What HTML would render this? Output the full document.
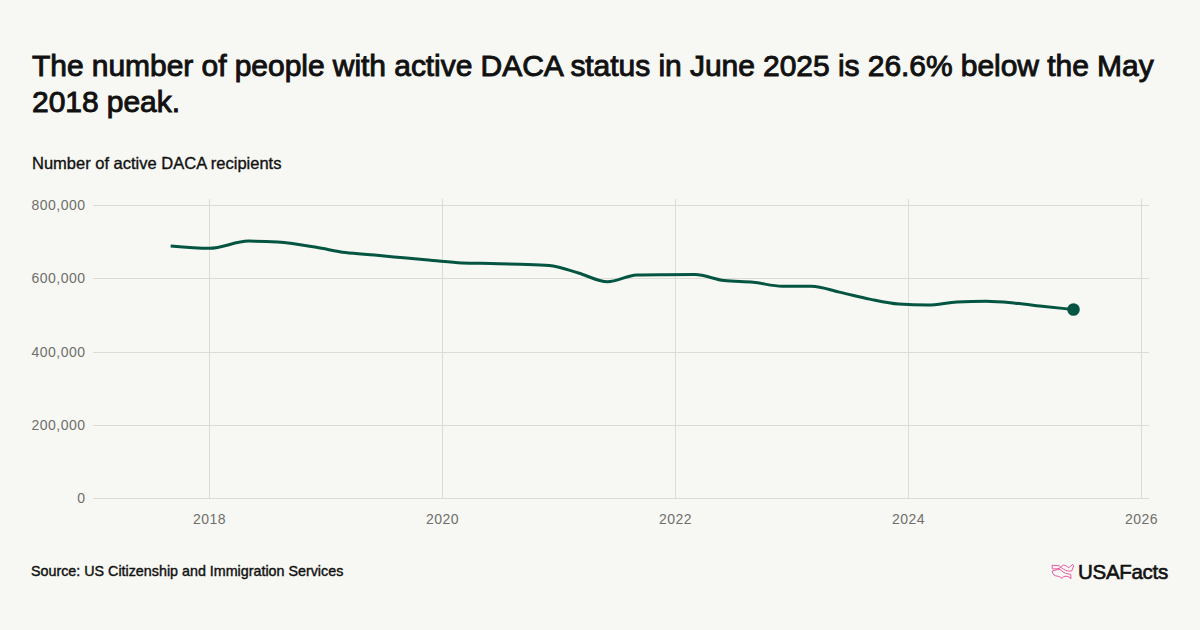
<!DOCTYPE html>
<html><head><meta charset="utf-8">
<style>
html,body{margin:0;padding:0;}
body{width:1200px;height:630px;background:#f7f7f3;position:relative;overflow:hidden;font-family:"Liberation Sans",sans-serif;color:#111;}
.title{position:absolute;left:32px;top:47.6px;width:1160px;font-size:30px;line-height:36px;font-weight:normal;-webkit-text-stroke:0.95px #111;letter-spacing:-0.05px;margin:0;}
.sub{position:absolute;left:32px;top:153px;font-size:16.5px;line-height:20px;color:#111;-webkit-text-stroke:0.35px #111;}
.src{position:absolute;left:31px;top:562px;font-size:14.3px;line-height:18px;color:#111;-webkit-text-stroke:0.4px #111;}
svg{position:absolute;left:0;top:0;}
.ax{font-family:"Liberation Sans",sans-serif;font-size:14px;fill:#6f6f6c;letter-spacing:0.5px;}
.logo{position:absolute;left:1078px;top:559.5px;font-size:20.5px;line-height:24px;font-weight:normal;letter-spacing:-0.3px;color:#111;-webkit-text-stroke:0.6px #111;}
</style></head><body>
<div class="title">The number of people with active DACA status in June 2025 is 26.6% below the May 2018 peak.</div>
<div class="sub">Number of active DACA recipients</div>
<svg width="1200" height="630" viewBox="0 0 1200 630">
 <g stroke="#dcdbd5" stroke-width="1" fill="none">
  <line x1="93" y1="205.5" x2="1149" y2="205.5"/>
  <line x1="93" y1="278.5" x2="1149" y2="278.5"/>
  <line x1="93" y1="352.5" x2="1149" y2="352.5"/>
  <line x1="93" y1="425.5" x2="1149" y2="425.5"/>
  <line x1="93" y1="498.5" x2="1149" y2="498.5"/>
  <line x1="209.5" y1="199" x2="209.5" y2="498.5"/>
  <line x1="442.5" y1="199" x2="442.5" y2="498.5"/>
  <line x1="675.5" y1="199" x2="675.5" y2="498.5"/>
  <line x1="908.5" y1="199" x2="908.5" y2="498.5"/>
  <line x1="1141.5" y1="199" x2="1141.5" y2="498.5"/>
 </g>
 <g class="ax" text-anchor="end">
  <text x="85.5" y="210">800,000</text>
  <text x="85.5" y="283">600,000</text>
  <text x="85.5" y="356.5">400,000</text>
  <text x="85.5" y="430">200,000</text>
  <text x="85.5" y="503">0</text>
 </g>
 <g class="ax" text-anchor="middle">
  <text x="209.5" y="523.5">2018</text>
  <text x="442.5" y="523.5">2020</text>
  <text x="675.5" y="523.5">2022</text>
  <text x="908.5" y="523.5">2024</text>
  <text x="1141.5" y="523.5">2026</text>
 </g>
 <path d="M170.67,246.00C183.61,247.15,196.56,248.30,209.50,248.30C222.44,248.30,235.39,241.10,248.33,241.10C258.04,241.10,267.75,241.43,277.46,242.10C290.40,242.99,303.35,245.21,316.29,247.30C326.00,248.87,335.71,251.30,345.42,252.60C355.13,253.90,364.83,254.23,374.54,255.10C384.25,255.97,393.96,256.90,403.67,257.80C413.38,258.70,423.08,259.65,432.79,260.50C442.50,261.35,452.21,262.50,461.92,262.90C471.63,263.30,481.33,263.28,491.04,263.50C500.75,263.72,510.46,263.88,520.17,264.20C529.88,264.52,539.58,264.60,549.29,265.40C559.00,266.20,568.71,270.27,578.42,273.00C588.13,275.73,597.83,281.80,607.54,281.80C617.25,281.80,626.96,275.20,636.67,275.00C646.38,274.80,656.08,274.77,665.79,274.70C675.50,274.63,685.21,274.60,694.92,274.60C704.63,274.60,714.33,279.30,724.04,280.50C733.75,281.70,743.46,281.35,753.17,282.30C762.88,283.25,772.58,286.17,782.29,286.20C792.00,286.23,801.71,286.22,811.42,286.25C821.13,286.28,830.83,290.26,840.54,292.40C850.25,294.54,859.96,297.17,869.67,299.10C879.38,301.03,889.08,303.33,898.79,304.00C908.50,304.67,918.21,305.00,927.92,305.00C937.63,305.00,947.33,302.47,957.04,302.00C966.75,301.53,976.46,301.30,986.17,301.30C995.88,301.30,1005.58,302.33,1015.29,303.20C1025.00,304.07,1034.71,305.45,1044.42,306.50C1054.13,307.55,1063.83,308.52,1073.54,309.50" fill="none" stroke="#035542" stroke-width="3"/>
 <circle cx="1073.5" cy="309.5" r="6.3" fill="#035542"/>
 <g transform="translate(1049,561)" fill="none" stroke="#e5549f" stroke-width="0.95" stroke-linejoin="round" stroke-linecap="round">
  <path d="M3.3,7.5 L3.2,4.3 L9.3,4.6 Q11,5.1 11.8,6.1 Q13,4.4 14.8,4 Q17,4.4 19.6,6.6 Q21.6,5.8 23.5,3.3 L24.7,5 L22.7,10 L18.7,10 Q16.5,9.3 14.3,8 Q12.6,6.6 11.6,6.4 Q10.2,7.8 8.3,7.8 Z"/>
  <path d="M21.3,13.3 Q18.5,12.7 16.7,12.3 Q15,11.6 14,11 Q12,8.6 10,8.2 L3.3,10 Q3.2,12.8 5,14 Q6.3,15 9.5,15.4 Q11.6,16 13,17.5 L14.5,15.6 Q17,14.9 19,15.6 L21.7,17.4 Z"/>
 </g>
</svg>
<div class="src">Source: US Citizenship and Immigration Services</div>
<div class="logo">USAFacts</div>
</body></html>
